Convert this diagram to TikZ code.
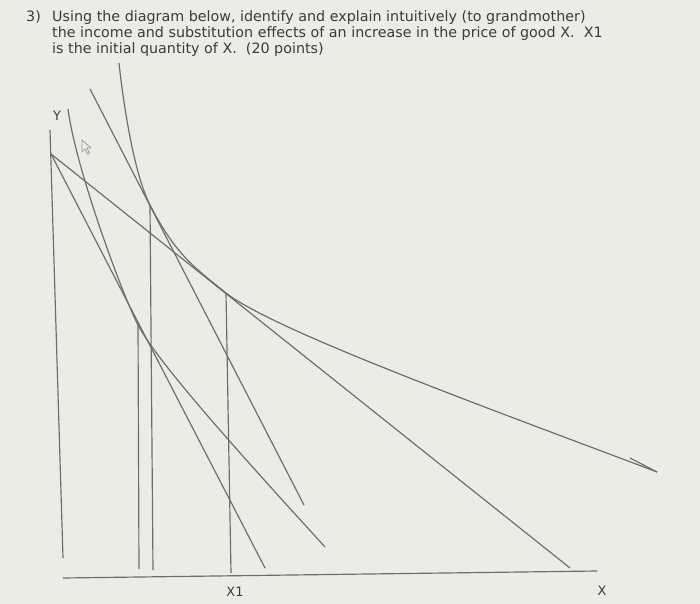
\documentclass[tikz,border=0pt]{standalone}
\usepackage{fontspec}
\setmainfont{DejaVu Sans}
\usepackage{tikz}
\definecolor{paper}{RGB}{236,236,231}
\definecolor{ink}{RGB}{108,108,112}
\definecolor{type}{RGB}{58,58,62}
\tikzset{
  curve/.style={ink, line width=1pt},
  lab/.style={type, inner sep=0pt, font=\fontsize{11}{12}\selectfont}
}

\begin{document}
\begin{tikzpicture}[x=0.3mm, y=-0.3mm]
\fill[paper] (0,0) rectangle (700,604);
\useasboundingbox (0,0) rectangle (700,604);

\node[anchor=north west, type, inner sep=0pt, font=\fontsize{12.2}{14}\selectfont] (num) at (26,10) {3)};
\node[anchor=north west, type, inner sep=0pt, align=left, font=\fontsize{12.2}{14}\selectfont] (task) at (52,10)
 {Using the diagram below, identify and explain intuitively (to grandmother)\\
  the income and substitution effects of an increase in the price of good X.~~X1\\
  is the initial quantity of X.~~(20 points)};

\coordinate (ytop) at (50,130);
\coordinate (ybot) at (63,558);
\coordinate (xleft) at (63,578);
\coordinate (xright) at (597,571);
\coordinate (a) at (51,154);
\coordinate (b) at (570,568);
\coordinate (c) at (265,568);
\coordinate (d) at (90,89);
\coordinate (e) at (304,505);
\coordinate (t1) at (226,293);
\coordinate (t2) at (150,205);
\coordinate (t3) at (138,325);
\coordinate (x1) at (231,573);
\coordinate (x2) at (153,570);
\coordinate (x3) at (139,569);
\coordinate (u0) at (119,63);
\coordinate (u1) at (657,472);
\coordinate (barb) at (630,458);
\coordinate (l0) at (68,109);
\coordinate (l1) at (325,547);

\draw[curve] (ytop)--(ybot);
\draw[curve] (xleft)--(xright);
\node[lab] (ylab) at (57,116) {Y};
\node[lab] (xlab) at (602,591) {X};
\node[lab] (x1lab) at (235,592) {X1};

\draw[curve] (a)--(b);
\draw[curve] (a)--(c);
\draw[curve] (d)--(e);

\draw[curve] (u0) .. controls (124,110) and (135,176) .. (t2)
  .. controls (175,253) and (191,265) .. (t1)
  .. controls (276,332) and (507,415) .. (u1);
\draw[curve] (barb)--(u1);
\draw[curve] (l0) .. controls (76,170) and (123,296) .. (t3)
  .. controls (160,367) and (265,481) .. (l1);

\draw[curve] (t1)--(x1);
\draw[curve] (t2)--(x2);
\draw[curve] (t3)--(x3);

\draw[ink!70, line width=0.6pt, line join=round] (82,140)--(82,152)--(85,149)--(87.5,154)--(89.5,153)--(87,148)--(91,148)--cycle;
\end{tikzpicture}
\end{document}
